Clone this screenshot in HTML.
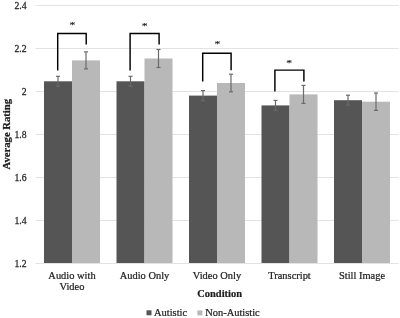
<!DOCTYPE html><html><head><meta charset="utf-8"><style>html,body{margin:0;padding:0;background:#fff;width:400px;height:318px;overflow:hidden}svg{display:block}text{font-family:"Liberation Serif",serif;fill:#1e1e1e;stroke:#1e1e1e;stroke-width:0.25px}</style></head><body>
<svg width="400" height="318" viewBox="0 0 400 318">
<line x1="35.5" y1="5.5" x2="398.5" y2="5.5" stroke="#e3e3e3" stroke-width="1"/>
<text transform="translate(26.60,9.00) scale(0.87,1)" font-size="11.2" text-anchor="end">2.4</text>
<line x1="35.5" y1="48.5" x2="398.5" y2="48.5" stroke="#e3e3e3" stroke-width="1"/>
<text transform="translate(26.60,52.00) scale(0.87,1)" font-size="11.2" text-anchor="end">2.2</text>
<line x1="35.5" y1="91.5" x2="398.5" y2="91.5" stroke="#e3e3e3" stroke-width="1"/>
<text transform="translate(26.60,95.00) scale(0.87,1)" font-size="11.2" text-anchor="end">2</text>
<line x1="35.5" y1="134.5" x2="398.5" y2="134.5" stroke="#e3e3e3" stroke-width="1"/>
<text transform="translate(26.60,138.00) scale(0.87,1)" font-size="11.2" text-anchor="end">1.8</text>
<line x1="35.5" y1="177.5" x2="398.5" y2="177.5" stroke="#e3e3e3" stroke-width="1"/>
<text transform="translate(26.60,181.00) scale(0.87,1)" font-size="11.2" text-anchor="end">1.6</text>
<line x1="35.5" y1="220.5" x2="398.5" y2="220.5" stroke="#e3e3e3" stroke-width="1"/>
<text transform="translate(26.60,224.00) scale(0.87,1)" font-size="11.2" text-anchor="end">1.4</text>
<line x1="35.5" y1="263.5" x2="398.5" y2="263.5" stroke="#e3e3e3" stroke-width="1"/>
<text transform="translate(26.60,267.00) scale(0.87,1)" font-size="11.2" text-anchor="end">1.2</text>
<rect x="44.0" y="81.3" width="28.0" height="181.7" fill="#555555"/>
<rect x="72.0" y="60.4" width="28.0" height="202.6" fill="#b8b8b8"/>
<rect x="116.5" y="81.3" width="28.0" height="181.7" fill="#555555"/>
<rect x="144.5" y="58.5" width="28.0" height="204.5" fill="#b8b8b8"/>
<rect x="189.0" y="95.6" width="28.0" height="167.4" fill="#555555"/>
<rect x="217.0" y="83.0" width="28.0" height="180.0" fill="#b8b8b8"/>
<rect x="261.5" y="105.4" width="28.0" height="157.6" fill="#555555"/>
<rect x="289.5" y="94.4" width="28.0" height="168.6" fill="#b8b8b8"/>
<rect x="334.0" y="100.2" width="28.0" height="162.8" fill="#555555"/>
<rect x="362.0" y="101.7" width="28.0" height="161.3" fill="#b8b8b8"/>
<g stroke="#6a6a6a" stroke-width="1.2" fill="none"><line x1="58.0" y1="76.3" x2="58.0" y2="86.3"/><line x1="56.0" y1="76.3" x2="60.0" y2="76.3"/><line x1="56.0" y1="86.3" x2="60.0" y2="86.3"/></g>
<g stroke="#6a6a6a" stroke-width="1.2" fill="none"><line x1="86.0" y1="51.9" x2="86.0" y2="68.9"/><line x1="84.0" y1="51.9" x2="88.0" y2="51.9"/><line x1="84.0" y1="68.9" x2="88.0" y2="68.9"/></g>
<g stroke="#6a6a6a" stroke-width="1.2" fill="none"><line x1="130.5" y1="76.3" x2="130.5" y2="86.3"/><line x1="128.5" y1="76.3" x2="132.5" y2="76.3"/><line x1="128.5" y1="86.3" x2="132.5" y2="86.3"/></g>
<g stroke="#6a6a6a" stroke-width="1.2" fill="none"><line x1="158.5" y1="49.5" x2="158.5" y2="67.5"/><line x1="156.5" y1="49.5" x2="160.5" y2="49.5"/><line x1="156.5" y1="67.5" x2="160.5" y2="67.5"/></g>
<g stroke="#6a6a6a" stroke-width="1.2" fill="none"><line x1="203.0" y1="90.6" x2="203.0" y2="100.6"/><line x1="201.0" y1="90.6" x2="205.0" y2="90.6"/><line x1="201.0" y1="100.6" x2="205.0" y2="100.6"/></g>
<g stroke="#6a6a6a" stroke-width="1.2" fill="none"><line x1="231.0" y1="74.2" x2="231.0" y2="91.8"/><line x1="229.0" y1="74.2" x2="233.0" y2="74.2"/><line x1="229.0" y1="91.8" x2="233.0" y2="91.8"/></g>
<g stroke="#6a6a6a" stroke-width="1.2" fill="none"><line x1="275.5" y1="100.4" x2="275.5" y2="110.4"/><line x1="273.5" y1="100.4" x2="277.5" y2="100.4"/><line x1="273.5" y1="110.4" x2="277.5" y2="110.4"/></g>
<g stroke="#6a6a6a" stroke-width="1.2" fill="none"><line x1="303.5" y1="85.4" x2="303.5" y2="103.4"/><line x1="301.5" y1="85.4" x2="305.5" y2="85.4"/><line x1="301.5" y1="103.4" x2="305.5" y2="103.4"/></g>
<g stroke="#6a6a6a" stroke-width="1.2" fill="none"><line x1="348.0" y1="95.2" x2="348.0" y2="105.2"/><line x1="346.0" y1="95.2" x2="350.0" y2="95.2"/><line x1="346.0" y1="105.2" x2="350.0" y2="105.2"/></g>
<g stroke="#6a6a6a" stroke-width="1.2" fill="none"><line x1="376.0" y1="93.0" x2="376.0" y2="110.4"/><line x1="374.0" y1="93.0" x2="378.0" y2="93.0"/><line x1="374.0" y1="110.4" x2="378.0" y2="110.4"/></g>
<polyline points="57.7,70.5 57.7,33.5 86.2,33.5 86.2,44.5" stroke="#000" stroke-width="1.45" fill="none"/>
<text transform="translate(72.5,28.0) scale(1.05,0.8)" font-size="11" text-anchor="middle" style="stroke:#222;stroke-width:0.2px;fill:#222">*</text>
<polyline points="130.1,70.4 130.1,33.4 159.1,33.4 159.1,44.6" stroke="#000" stroke-width="1.45" fill="none"/>
<text transform="translate(144.7,28.5) scale(1.05,0.8)" font-size="11" text-anchor="middle" style="stroke:#222;stroke-width:0.2px;fill:#222">*</text>
<polyline points="202.7,81.4 202.7,53.3 231.1,53.3 231.1,70.2" stroke="#000" stroke-width="1.45" fill="none"/>
<text transform="translate(217.3,46.800000000000004) scale(1.05,0.8)" font-size="11" text-anchor="middle" style="stroke:#222;stroke-width:0.2px;fill:#222">*</text>
<polyline points="274.9,91.5 274.9,70.1 303.9,70.1 303.9,81.4" stroke="#000" stroke-width="1.45" fill="none"/>
<text transform="translate(289.1,65.5) scale(1.05,0.8)" font-size="11" text-anchor="middle" style="stroke:#222;stroke-width:0.2px;fill:#222">*</text>
<text transform="translate(72.00,279.20) scale(0.925,1)" font-size="11.3" text-anchor="middle">Audio with</text>
<text transform="translate(72.00,290.00) scale(0.925,1)" font-size="11.3" text-anchor="middle">Video</text>
<text transform="translate(144.50,279.20) scale(0.925,1)" font-size="11.3" text-anchor="middle">Audio Only</text>
<text transform="translate(217.00,279.20) scale(0.925,1)" font-size="11.3" text-anchor="middle">Video Only</text>
<text transform="translate(289.50,279.20) scale(0.925,1)" font-size="11.3" text-anchor="middle">Transcript</text>
<text transform="translate(362.00,279.20) scale(0.925,1)" font-size="11.3" text-anchor="middle">Still Image</text>
<text transform="translate(219.60,297.00) scale(0.925,1)" font-size="11.3" text-anchor="middle" font-weight="bold">Condition</text>
<rect x="146.5" y="310.3" width="5" height="5" fill="#555555"/>
<text transform="translate(154.00,315.50) scale(0.925,1)" font-size="11.3" text-anchor="start">Autistic</text>
<rect x="197.4" y="310.4" width="5" height="5" fill="#b8b8b8"/>
<text transform="translate(205.20,315.50) scale(0.925,1)" font-size="11.3" text-anchor="start">Non-Autistic</text>
<text transform="translate(9.6,134.2) rotate(-90) scale(0.97,1)" font-size="11" font-weight="bold" text-anchor="middle">Average Rating</text>
</svg></body></html>
